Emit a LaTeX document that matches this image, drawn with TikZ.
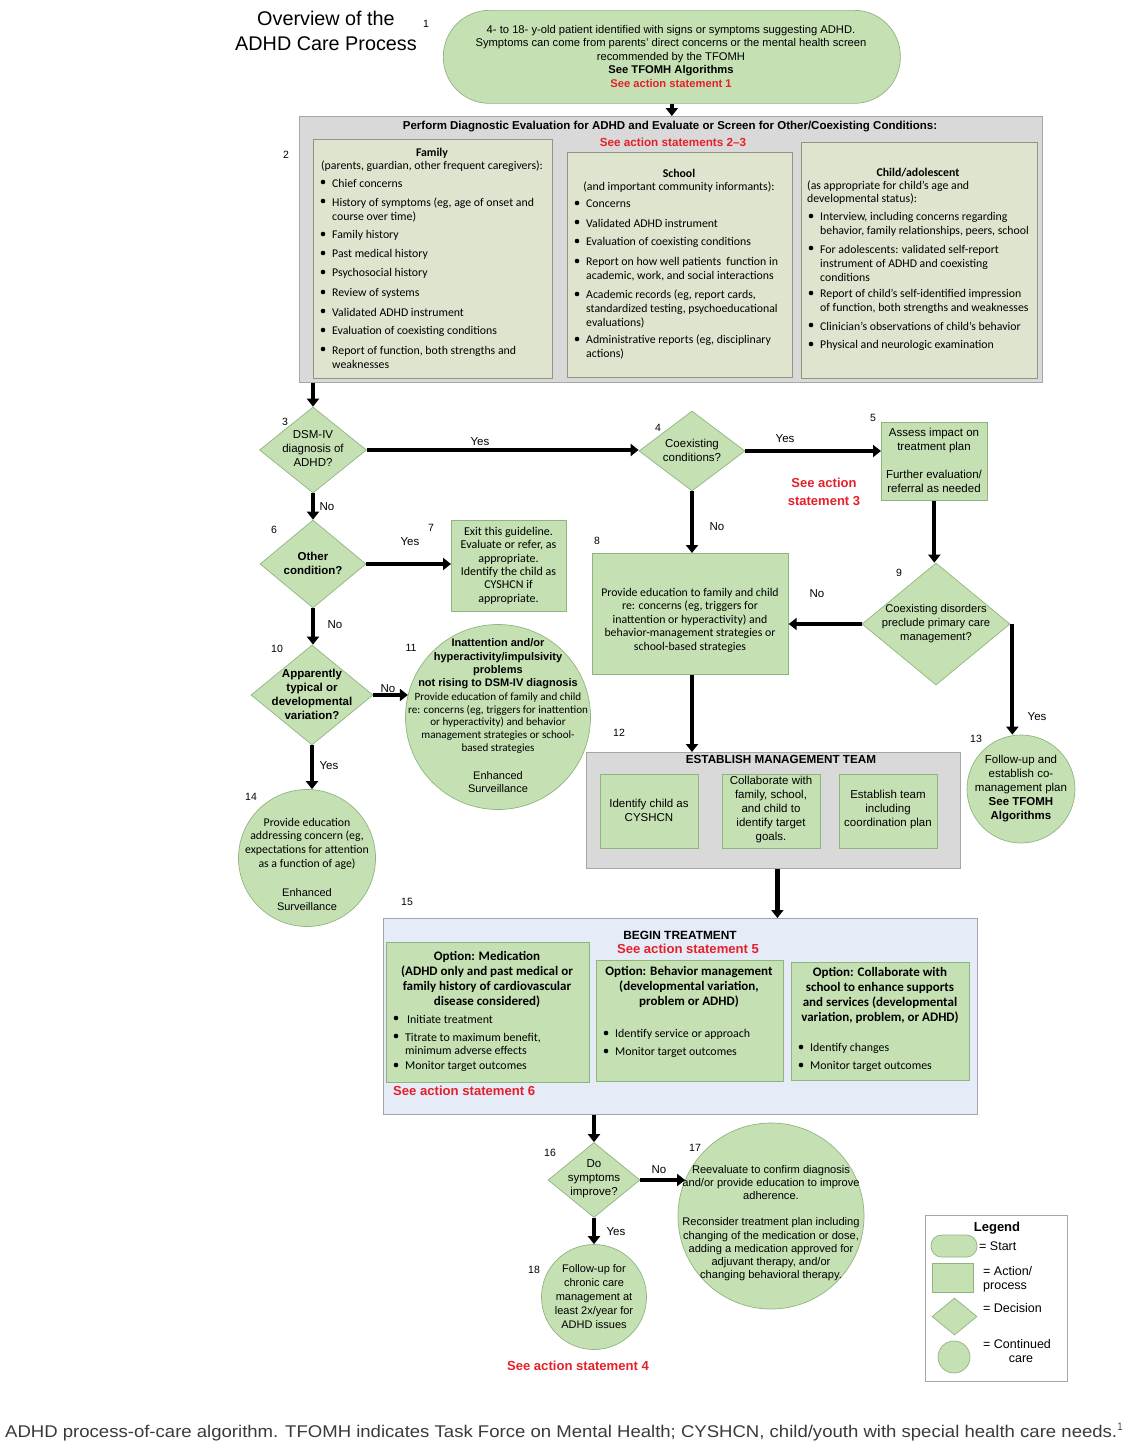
\documentclass[tikz,border=0pt]{standalone}
\usepackage{fontspec}
\usepackage{graphicx}
\setmainfont{Liberation Sans}
\newfontfamily\calfont{Carlito}
\newfontfamily\condfont[FakeStretch=0.8]{Liberation Sans}
\usetikzlibrary{shapes.geometric,arrows.meta}
\definecolor{gfill}{HTML}{C5E0B3}
\definecolor{gline}{HTML}{8FB57F}
\definecolor{sfill}{HTML}{DEE4CE}
\definecolor{sline}{HTML}{8E9680}
\definecolor{grayfill}{HTML}{D9D9D9}
\definecolor{grayline}{HTML}{A6A6A6}
\definecolor{bluefill}{HTML}{E6ECF7}
\definecolor{blueline}{HTML}{A0A6AE}
\definecolor{redtxt}{HTML}{E5202A}
\definecolor{captxt}{HTML}{3A3A3A}
\newcommand{\fsz}[2]{\fontsize{#1}{#2}\selectfont}
\newcommand{\lisize}{\fsz{11.8}{14}}
\newcommand{\blitem}[4]{\fill (#1-9,#2-1) circle (2.3pt); \node[li] at (#1,#3) {#4};}
\begin{document}
\begin{tikzpicture}[x=1pt,y=-1pt,
  gshape/.style={fill=gfill, draw=gline, line width=0.7pt, inner sep=0pt},
  grect/.style={gshape, rectangle, anchor=north west},
  gdia/.style={gshape, diamond},
  gcirc/.style={gshape, circle},
  sbox/.style={rectangle, fill=sfill, draw=sline, line width=0.7pt, inner sep=0pt, anchor=north west},
  panel/.style={rectangle, line width=0.8pt, inner sep=0pt, anchor=north west},
  arr/.style={line width=4.2pt, -{Triangle[length=8pt,width=12pt]}},
  tx/.style={inner sep=0pt, align=center, font=\fsz{11.5}{14}},
  ct/.style={inner sep=0pt, align=center, font=\calfont\fsz{11.8}{13.5}},
  li/.style={inner sep=0pt, align=left, anchor=west, font=\calfont\lisize},
  num/.style={inner sep=0pt, font=\fsz{10.5}{12}},
  yn/.style={inner sep=0pt, font=\fsz{11.5}{13}},
  redl/.style={inner sep=0pt, align=center, text=redtxt, font=\bfseries\fsz{13.1}{18}},
  legt/.style={inner sep=0pt, font=\fsz{12.5}{15}}
]
\useasboundingbox (0,0) rectangle (1133,1444);

% title
\node[tx, font=\fsz{19.8}{25}] (title) at (326,30.5) {Overview of the\\ADHD Care Process};

% node 1
\node[gshape, rectangle, rounded corners=46pt, minimum width=457pt, minimum height=93pt, anchor=north west] (n1) at (443,10) {};
\node[tx, font=\fsz{11.2}{13.5}] (n1t) at (671,56) {4- to 18- y-old patient identified with signs or symptoms suggesting ADHD.\\Symptoms can come from parents’ direct concerns or the mental health screen\\recommended by the TFOMH\\\textbf{See TFOMH Algorithms}\\\textcolor{redtxt}{\textbf{See action statement 1}}};

% diagnostic evaluation panel
\node[panel, fill=grayfill, draw=grayline, minimum width=743pt, minimum height=266pt] (diag) at (299,116) {};
\node[inner sep=0pt, font=\bfseries\fsz{11.5}{12}] (diagt) at (670,127) {Perform Diagnostic Evaluation for ADHD and Evaluate or Screen for Other/Coexisting Conditions:};
\node[redl, font=\bfseries\fsz{11.7}{12}] (diagr) at (673,142) {See action statements 2–3};

\node[sbox, minimum width=239pt, minimum height=239pt] (fam) at (313,139) {};
\node[sbox, minimum width=225pt, minimum height=225pt] (sch) at (567,152) {};
\node[sbox, minimum width=236pt, minimum height=236pt] (chi) at (801,142) {};

% family
\node[ct, font=\calfont\bfseries\fsz{11.8}{13}] (famh) at (432,153) {Family};
\node[ct] (famh2) at (432,166) {(parents, guardian, other frequent caregivers):};
\blitem{332}{183}{183}{Chief concerns}
\blitem{332}{202}{209.5}{History of symptoms (eg, age of onset and\\course over time)}
\blitem{332}{235}{235}{Family history}
\blitem{332}{254}{254}{Past medical history}
\blitem{332}{273}{273}{Psychosocial history}
\blitem{332}{293}{293}{Review of systems}
\blitem{332}{312}{312}{Validated ADHD instrument}
\blitem{332}{331}{331}{Evaluation of coexisting conditions}
\blitem{332}{350}{357.5}{Report of function, both strengths and\\weaknesses}

% school
\node[ct, font=\calfont\bfseries\fsz{11.8}{13}] (schh) at (679,173) {School};
\node[ct] (schh2) at (679,187) {(and important community informants):};
\blitem{586}{204}{204}{Concerns}
\blitem{586}{223}{223}{Validated ADHD instrument}
\blitem{586}{242}{242}{Evaluation of coexisting conditions}
\blitem{586}{262}{269}{Report on how well patients\ \ function in\\academic, work, and social interactions}
\blitem{586}{295}{308.5}{Academic records (eg, report cards,\\standardized testing, psychoeducational\\evaluations)}
\blitem{586}{340}{346.5}{Administrative reports (eg, disciplinary\\actions)}

% child
\node[ct, font=\calfont\bfseries\fsz{11.8}{13}] (chih) at (918,173) {Child/adolescent};
\node[ct, align=left, anchor=west, font=\calfont\fsz{11.8}{13}] (chih2) at (807,192.5) {(as appropriate for child’s age and\\developmental status):};
\blitem{820}{217}{224}{Interview, including concerns regarding\\behavior, family relationships, peers, school}
\blitem{820}{249}{263}{For adolescents: validated self-report\\instrument of ADHD and coexisting\\conditions}
\blitem{820}{294}{301}{Report of child’s self-identified impression\\of function, both strengths and weaknesses}
\blitem{820}{326}{326}{Clinician’s observations of child’s behavior}
\blitem{820}{345}{345}{Physical and neurologic examination}

% decisions and actions
\node[gdia, minimum width=107pt, minimum height=86pt] (d3) at (313,450) {};
\node[tx] (d3t) at (313,448) {DSM-IV\\diagnosis of\\ADHD?};
\node[gdia, minimum width=106pt, minimum height=80pt] (d4) at (692,451) {};
\node[tx] (d4t) at (692,450.5) {Coexisting\\conditions?};
\node[grect, minimum width=106pt, minimum height=78pt] (b5) at (881,422) {};
\node[tx] (b5t) at (934,460) {Assess impact on\\treatment plan\\[14pt]Further evaluation/\\referral as needed};
\node[redl, font=\bfseries\fsz{13}{18}] (r3) at (824,492) {See action\\statement 3};
\node[gdia, minimum width=148pt, minimum height=122pt] (d9) at (936,624) {};
\node[tx, font=\fsz{11.2}{14}] (d9t) at (936,624) {Coexisting disorders\\preclude primary care\\management?};
\node[gcirc, minimum size=108pt] (c13) at (1021,789) {};
\node[tx] (c13t) at (1021,789) {Follow-up and\\establish co-\\management plan\\\textbf{See TFOMH}\\\textbf{Algorithms}};
\node[grect, minimum width=196pt, minimum height=121pt] (b8) at (592,553) {};
\node[ct] (b8t) at (690,620) {Provide education to family and child\\re: concerns (eg, triggers for\\inattention or hyperactivity) and\\behavior-management strategies or\\school-based strategies};

% management team
\node[panel, fill=grayfill, draw=grayline, minimum width=374pt, minimum height=116pt] (mgmt) at (586,752) {};
\node[inner sep=0pt, font=\bfseries\fsz{11.7}{12}] (mgmtt) at (781,759) {ESTABLISH MANAGEMENT TEAM};
\node[grect, minimum width=98pt, minimum height=74pt] (m1) at (600,774) {};
\node[tx] (m1t) at (649,810) {Identify child as\\CYSHCN};
\node[grect, minimum width=98pt, minimum height=74pt] (m2) at (722,774) {};
\node[tx] (m2t) at (771,810) {Collaborate with\\family, school,\\and child to\\identify target\\goals.};
\node[grect, minimum width=98pt, minimum height=74pt] (m3) at (839,774) {};
\node[tx] (m3t) at (888,810) {Establish team\\including\\coordination plan};

% left column
\node[gdia, minimum width=106pt, minimum height=88pt] (d6) at (313,564) {};
\node[tx, font=\bfseries\fsz{11.5}{13.5}] (d6t) at (313,563.5) {Other\\condition?};
\node[grect, minimum width=115pt, minimum height=91pt] (b7) at (451,520) {};
\node[ct, font=\calfont\fsz{12}{13.4}] (b7t) at (508.5,565.5) {Exit this guideline.\\Evaluate or refer, as\\appropriate.\\Identify the child as\\CYSHCN if\\appropriate.};
\node[gdia, minimum width=122pt, minimum height=100pt] (d10) at (312,695) {};
\node[tx, font=\bfseries\fsz{11.5}{14}] (d10t) at (312,694) {Apparently\\typical or\\developmental\\variation?};
\node[gcirc, minimum size=185pt] (c11) at (498,717) {};
\node[tx, font=\bfseries\fsz{11}{13.3}] (c11a) at (498,664) {Inattention and/or\\hyperactivity/impulsivity\\problems\\not rising to DSM-IV diagnosis};
\node[ct, font=\calfont\fsz{11.1}{12.6}] (c11b) at (498,723) {Provide education of family and child\\re: concerns (eg, triggers for inattention\\or hyperactivity) and behavior\\management strategies or school-\\based strategies};
\node[tx, font=\fsz{11}{13}] (c11c) at (498,782.5) {Enhanced\\Surveillance};
\node[gcirc, minimum size=137pt] (c14) at (307,858) {};
\node[ct, font=\calfont\fsz{11.8}{13.7}] (c14a) at (307,843.5) {Provide education\\addressing concern (eg,\\expectations for attention\\as a function of age)};
\node[tx, font=\fsz{11}{13.5}] (c14b) at (307,899.5) {Enhanced\\Surveillance};

% treatment
\node[panel, fill=bluefill, draw=blueline, minimum width=594pt, minimum height=196pt] (treat) at (383,918) {};
\node[inner sep=0pt, font=\bfseries\fsz{11.9}{12}] (treatt) at (680,935) {BEGIN TREATMENT};
\node[redl] (r5) at (688,949) {See action statement 5};
\renewcommand{\lisize}{\fsz{11.9}{13.5}}
\node[grect, minimum width=203pt, minimum height=140pt] (med) at (386,942) {};
\node[ct, font=\calfont\bfseries\fsz{13}{15}] (medt) at (487,979.5) {Option: Medication\\(ADHD only and past medical or\\family history of cardiovascular\\disease considered)};
\blitem{405}{1019}{1019}{\,Initiate treatment}
\blitem{405}{1037}{1044}{Titrate to maximum benefit,\\minimum adverse effects}
\blitem{405}{1066}{1066}{Monitor target outcomes}
\node[redl, anchor=west] (r6) at (393,1091) {See action statement 6};
\node[grect, minimum width=187pt, minimum height=121pt] (beh) at (596,960) {};
\node[ct, font=\calfont\bfseries\fsz{13}{15}] (beht) at (689,987) {Option: Behavior management\\(developmental variation,\\problem or ADHD)};
\blitem{615}{1034}{1034}{Identify service or approach}
\blitem{615}{1052}{1052}{Monitor target outcomes}
\node[grect, minimum width=178pt, minimum height=118pt] (col) at (791,962) {};
\node[ct, font=\calfont\bfseries\fsz{13}{15}] (colt) at (880,995.5) {Option: Collaborate with\\school to enhance supports\\and services (developmental\\variation, problem, or ADHD)};
\blitem{810}{1048}{1048}{Identify changes}
\blitem{810}{1066}{1066}{Monitor target outcomes}

% bottom
\node[gdia, minimum width=92pt, minimum height=75pt] (d16) at (594,1180) {};
\node[tx] (d16t) at (594,1179) {Do\\symptoms\\improve?};
\node[gcirc, minimum size=186pt] (c17) at (771,1216) {};
\node[tx, font=\fsz{11.1}{13.2}] (c17t) at (771,1223) {Reevaluate to confirm diagnosis\\and/or provide education to improve\\adherence.\\[13.2pt]Reconsider treatment plan including\\changing of the medication or dose,\\adding a medication approved for\\adjuvant therapy, and/or\\changing behavioral therapy.};
\node[gcirc, minimum size=105pt] (c18) at (594,1297) {};
\node[tx, font=\fsz{11}{14.2}] (c18t) at (594,1296.5) {Follow-up for\\chronic care\\management at\\least 2x/year for\\ADHD issues};
\node[redl] (r4) at (578,1366) {See action statement 4};

% step numbers
\node[num] (k1) at (426,24) {1};
\node[num] (k2) at (286,155) {2};
\node[num] (k3) at (285,422) {3};
\node[num] (k4) at (658,428) {4};
\node[num] (k5) at (873,418) {5};
\node[num] (k6) at (274,530) {6};
\node[num] (k7) at (431,528) {7};
\node[num] (k8) at (597,541) {8};
\node[num] (k9) at (899,573) {9};
\node[num] (k10) at (277,649) {10};
\node[num] (k11) at (411,648) {11};
\node[num] (k12) at (619,733) {12};
\node[num] (k13) at (976,739) {13};
\node[num] (k14) at (251,797) {14};
\node[num] (k15) at (407,902) {15};
\node[num] (k16) at (550,1153) {16};
\node[num] (k17) at (695,1148) {17};
\node[num] (k18) at (534,1270) {18};

% yes/no labels
\node[yn] (y1) at (480,442) {Yes};
\node[yn] (y2) at (785,439) {Yes};
\node[yn] (y3) at (327,507) {No};
\node[yn] (y4) at (410,542) {Yes};
\node[yn] (y5) at (717,527) {No};
\node[yn] (y6) at (817,594) {No};
\node[yn] (y7) at (335,625) {No};
\node[yn] (y8) at (388,689) {No};
\node[yn] (y9) at (1037,717) {Yes};
\node[yn] (y10) at (329,766) {Yes};
\node[yn] (y11) at (659,1170) {No};
\node[yn] (y12) at (616,1232) {Yes};

% connectors
\draw[arr] (n1.south) -- (n1.south |- diag.north);
\draw[arr] (d3.north |- diag.south) -- (d3.north);
\draw[arr] (d3.east) -- (d3.east -| d4.west);
\draw[arr] (d4.east) -- (d4.east -| b5.west);
\draw[arr] (b5.south) -- (b5.south |- d9.north);
\draw[arr] (d9.west) -- (d9.west -| b8.east);
\draw[arr] ([xshift=2pt]d9.east) -- ([xshift=2pt]d9.east |- c13.north);
\draw[arr] (d4.south) -- (d4.south |- b8.north);
\draw[arr] (d4.south |- b8.south) -- (d4.south |- mgmt.north);
\draw[arr] ([xshift=4pt]mgmt.south) -- ([xshift=4pt]mgmt.south |- treat.north);
\draw[arr] (d3.south) -- (d6.north);
\draw[arr] (d6.east) -- (d6.east -| b7.west);
\draw[arr] (d6.south) -- (d6.south |- d10.north);
\draw[arr] (d10.east) -- (d10.east -| c11.166);
\draw[arr] (d10.south) -- (d10.south |- c14.north);
\draw[arr] (d16.north |- treat.south) -- (d16.north);
\draw[arr] (d16.east) -- (d16.east -| c17.157);
\draw[arr] (d16.south) -- (d16.south |- c18.north);

% legend
\node[panel, fill=white, draw=grayline, minimum width=142pt, minimum height=166pt] (leg) at (925,1215) {};
\node[inner sep=0pt, font=\bfseries\fsz{13}{15}] (legh) at (997,1228) {Legend};
\node[gshape, rectangle, rounded corners=10.5pt, minimum width=46pt, minimum height=22pt] (ls) at (954,1246) {};
\node[legt, anchor=west] (lst) at (979,1246) {= Start};
\node[grect, minimum width=41pt, minimum height=29pt] (lr) at (932,1263) {};
\node[legt, anchor=west, align=left, font=\fsz{12.5}{14}] (lrt) at (983,1279) {= Action/\\process};
\node[gdia, minimum width=45pt, minimum height=37pt] (ld) at (954.5,1316.5) {};
\node[legt, anchor=west] (ldt) at (983,1308) {= Decision};
\node[gcirc, minimum size=32pt] (lc) at (954,1357) {};
\node[legt, anchor=west] (lct) at (983,1344) {= Continued};
\node[legt] (lct2) at (1021,1359) {care};

% caption
\node[anchor=base west, inner sep=0pt, text=captxt] (cap) at (5,1437) {\resizebox{1112pt}{12.3pt}{\condfont\fsz{17}{20}ADHD process-of-care algorithm. TFOMH indicates Task Force on Mental Health; CYSHCN, child/youth with special health care needs.}};
\node[anchor=base west, inner sep=0pt, text=captxt, font=\condfont\fsz{11}{12}] (capsup) at (cap.base east) [yshift=7pt] {1};
\end{tikzpicture}
\end{document}
